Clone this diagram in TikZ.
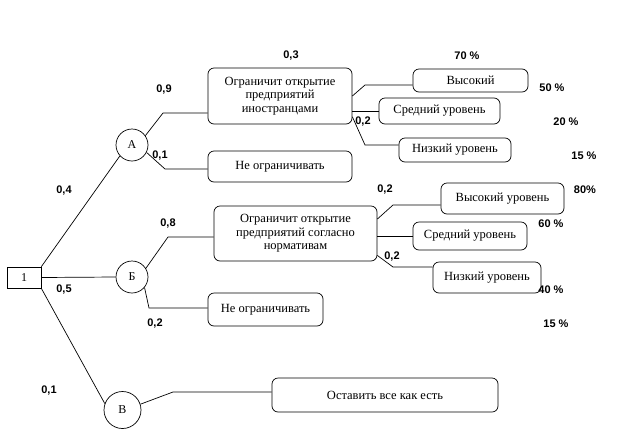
\documentclass[tikz,border=0pt]{standalone}
\usepackage{fontspec}
\setmainfont{Liberation Serif}
\newfontfamily\probfont{Liberation Sans}
\usepackage{tikz}

\begin{document}
\begin{tikzpicture}[x=1pt, y=-1pt, line width=0.7pt,
    choice/.style={draw, rounded corners=6pt, align=center, inner sep=1pt,
      font=\fontsize{12.5}{13.5}\selectfont},
    chance/.style={draw, circle, inner sep=0pt, font=\fontsize{12}{13.5}\selectfont},
    prob/.style={font=\probfont\bfseries\fontsize{11}{13}\selectfont, inner sep=0pt}]
    \useasboundingbox (0,0) rectangle (632,429);
    \node[draw, minimum width=34pt, minimum height=21pt, font=\fontsize{12}{13.5}\selectfont] (root) at (24,277.5) {1};
    \node[chance, minimum size=32pt] (A) at (132,145) {А};
    \node[chance, minimum size=32pt] (B) at (132,277) {Б};
    \node[chance, minimum size=37pt] (V) at (122.5,410) {В};
    \node[choice, minimum width=144pt, minimum height=56pt] (a1) at (280,96)
      {Ограничит открытие\\предприятий\\иностранцами};
    \node[choice, minimum width=144pt, minimum height=31pt] (a2) at (280,166.5) {Не ограничивать};
    \node[choice, minimum width=115pt, minimum height=23pt] (a1hi) at (470.5,80.5) {Высокий};
    \node[choice, minimum width=121pt, minimum height=26pt] (a1mid) at (439.5,111) {Средний уровень};
    \node[choice, minimum width=112pt, minimum height=24pt] (a1lo) at (455,150) {Низкий уровень};
    \node[choice, minimum width=163pt, minimum height=55pt] (b1) at (295.5,233.5)
      {Ограничит открытие\\предприятий согласно\\нормативам};
    \node[choice, minimum width=115pt, minimum height=33pt] (b2) at (265.5,309.5) {Не ограничивать};
    \node[choice, minimum width=123pt, minimum height=31pt] (b1hi) at (502.5,198.5) {Высокий уровень};
    \node[choice, minimum width=114pt, minimum height=28pt] (b1mid) at (470,236) {Средний уровень};
    \node[choice, minimum width=108pt, minimum height=31pt] (b1lo) at (487,277.5) {Низкий уровень};
    \node[choice, minimum width=226pt, minimum height=34pt] (v1) at (385,395) {Оставить все как есть};

    \coordinate (kA1) at (163,113);
    \coordinate (kA2) at (165,169);
    \coordinate (kB1) at (168,237);
    \coordinate (kB2) at (149,308);
    \coordinate (kV1) at (173,392);
    \coordinate (kAhi) at (365,85);
    \coordinate (kAlo) at (365,145);
    \coordinate (kBhi) at (393,205);
    \coordinate (kBlo) at (393,267);

    \draw (root.north east) -- (A.222);
    \draw (root.east) -- (B.west);
    \draw (root.south east) -- (V.160);
    \draw (A.35) -- (kA1) -- (kA1 -| a1.west);
    \draw (A.-27) -- (kA2) -- (kA2 -| a2.west);
    \draw (B.32) -- (kB1) -- (kB1 -| b1.west);
    \draw (B.-40) -- (kB2) -- (kB2 -| b2.west);
    \draw (V.18) -- (kV1) -- (kV1 -| v1.west);
    \draw (a1.east) -- (kAhi) -- (kAhi -| a1hi.west);
    \draw (a1.east |- a1mid.west) -- (a1mid.west);
    \draw (a1.-16) -- (kAlo) -- (kAlo -| a1lo.west);
    \draw (b1.10) -- (kBhi) -- (kBhi -| b1hi.west);
    \draw (b1.east |- b1mid.west) -- (b1mid.west);
    \draw (b1.-15) -- (kBlo) -- (kBlo -| b1lo.west);

    \node[prob] (p03) at (291,56) {0,3};
    \node[prob] (q70) at (467,56) {70 \%};
    \node[prob] (p09) at (164,90) {0,9};
    \node[prob] (q50) at (552,88) {50 \%};
    \node[prob] (q20) at (566,122) {20 \%};
    \node[prob] (p02a) at (363,122) {0,2};
    \node[prob] (p01a) at (160,156) {0,1};
    \node[prob] (q15a) at (584,156) {15 \%};
    \node[prob] (p04) at (64,191) {0,4};
    \node[prob] (p02b) at (385,190) {0,2};
    \node[prob] (q80) at (585,190) {80\%};
    \node[prob] (p08) at (168,224) {0,8};
    \node[prob] (q60) at (551,224) {60 \%};
    \node[prob] (p02c) at (392,257) {0,2};
    \node[prob] (p05) at (64,290) {0,5};
    \node[prob] (q40) at (551,290) {40 \%};
    \node[prob] (p02d) at (155,324) {0,2};
    \node[prob] (q15b) at (556,324) {15 \%};
    \node[prob] (p01b) at (49,391) {0,1};
\end{tikzpicture}
\end{document}
